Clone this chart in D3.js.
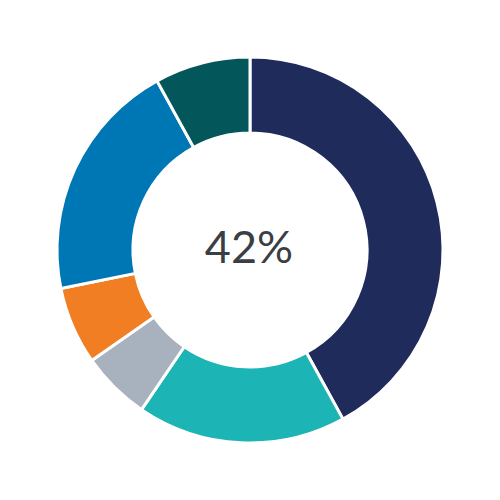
<!DOCTYPE html>
<html>
<head>
<meta charset="utf-8">
<script src="https://cdn.jsdelivr.net/npm/d3@7"></script>
<style>
  body { margin: 0; background: #fff; }
</style>
</head>
<body>
<div id="chart"></div>
<script>
const categories = ["A", "B", "C", "D", "E", "F"]
const values = [42, 17.5, 5.8, 6.5, 20.2, 8]
const colors = ["#1e2b5b", "#1db4b6", "#a8b2be", "#f17e22", "#0077b5", "#03575a"]
const centerLabel = "42%"

const width = 500, height = 500
const outerRadius = 193, innerRadius = 117

const svg = d3.select("#chart").append("svg")
    .attr("width", width)
    .attr("height", height)

const g = svg.append("g")
    .attr("transform", "translate(" + (width / 2) + "," + (height / 2) + ")")

const color = d3.scaleOrdinal()
    .domain(categories)
    .range(colors)

const pie = d3.pie()
    .sort(null)
    .value(d => d.value)

const arc = d3.arc()
    .innerRadius(innerRadius)
    .outerRadius(outerRadius)

const slices = pie(categories.map((c, i) => ({ key: c, value: values[i] })))

g.selectAll("path")
    .data(slices)
    .enter()
    .append("path")
    .attr("d", arc)
    .attr("fill", d => color(d.data.key))
    .attr("stroke", "#fff")
    .attr("stroke-width", 3)

g.append("text")
    .attr("text-anchor", "middle")
    .attr("x", -1)
    .attr("y", 13)
    .style("font-family", "Lato, 'Open Sans', sans-serif")
    .style("font-weight", 400)
    .style("font-size", "45px")
    .style("fill", "#3b3f45")
    .text(centerLabel)
</script>
</body>
</html>
